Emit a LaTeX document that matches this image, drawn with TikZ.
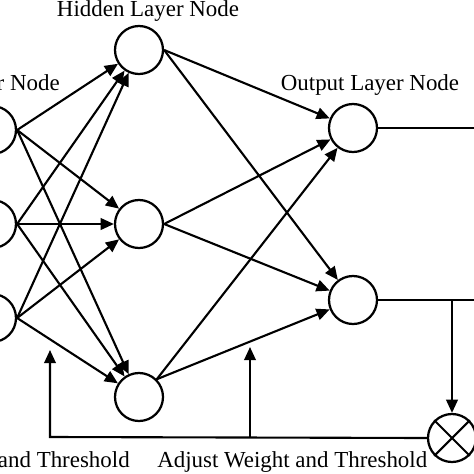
\documentclass[tikz,border=0pt]{standalone}
\usepackage{fontspec}
\setmainfont{Liberation Serif}
\usetikzlibrary{arrows.meta}
\tikzset{
  unit/.style={circle,draw,line width=1.6pt,minimum size=1.2cm,inner sep=0pt},
  link/.style={line width=1.5pt,-{Triangle[length=3.3mm,width=2.9mm]}},
  wire/.style={line width=1.5pt},
  lbl/.style={font=\fontsize{16.3}{18}\selectfont,inner sep=0pt}
}
\begin{document}
\begin{tikzpicture}[x=0.025cm,y=-0.025cm]
  \useasboundingbox (0,0) rectangle (474,474);
  \clip (0,0) rectangle (474,474);
  % input layer
    \node[unit] (i1) at (-8,130){};
    \node[unit] (i2) at (-8,224){};
    \node[unit] (i3) at (-8,318){};
  % hidden layer
    \node[unit] (h1) at (139,50){};
    \node[unit] (h2) at (139,224){};
    \node[unit] (h3) at (139,397){};
  % output layer
    \node[unit] (o1) at (353,128){};
    \node[unit] (o2) at (353,300){};
  % error unit
    \node[unit] (m) at (452,438){};
    \draw[wire] (m.north west)--(m.south east) (m.north east)--(m.south west);
  % labels
    \node[lbl,anchor=base] (thid) at (148,16){Hidden Layer Node};
    \node[lbl,anchor=base east] (tin) at (60,90){Input Layer Node};
    \node[lbl,anchor=base] (tout) at (370,90){Output Layer Node};
    \node[lbl,anchor=base east] (tadjl) at (130,467){Adjust Weight and Threshold};
    \node[lbl,anchor=base west] (tadjr) at (157,467){Adjust Weight and Threshold};
  % input to hidden
    \draw[link] (i1.east)--(h1);
    \draw[link] (i1.east)--(h2);
    \draw[link] (i1.east)--(h3);
    \draw[link] (i2.east)--(h1);
    \draw[link] (i2.east)--(h2);
    \draw[link] (i2.east)--(h3);
    \draw[link] (i3.east)--(h1);
    \draw[link] (i3.east)--(h2);
    \draw[link] (i3.east)--(h3);
  % hidden to output
    \draw[link] (h1.east)--(o1);
    \draw[link] (h1.east)--(o2);
    \draw[link] (h2.east)--(o1);
    \draw[link] (h2.east)--(o2);
    \draw[link] (h3.north east)--(o1);
    \draw[link] (h3.north east)--(o2);
  % outputs
    \coordinate (out1) at (474,128);
    \coordinate (out2) at (474,300);
    \coordinate (tap) at (452,300);
    \draw[wire] (o1.east)--(out1);
    \draw[wire] (o2.east)--(out2);
    \draw[link] (tap)--(m.north);
  % feedback
    \coordinate (fbl) at (50,437);
    \coordinate (fbltip) at (50,350);
    \coordinate (fbr) at (250,437);
    \coordinate (fbrtip) at (250,347);
    \draw[link] (m.west)--(fbl)--(fbltip);
    \draw[link] (fbr)--(fbrtip);
\end{tikzpicture}
\end{document}
